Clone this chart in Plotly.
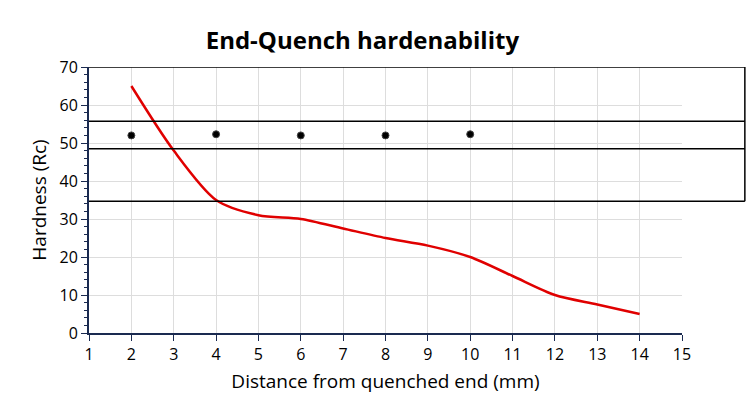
import plotly.graph_objects as go

curve_x = [2, 3, 4, 5, 6, 7, 8, 9, 10, 11, 12, 13, 14]
curve_y = [65, 48, 35, 31, 30, 27.5, 25, 23, 20, 15, 10, 7.5, 5]
dot_x = [2, 4, 6, 8, 10]
dot_y = [52, 52.3, 52, 52, 52.3]
band_levels = [70, 55.7, 48.5, 34.7]

fig = go.Figure()
fig.add_trace(go.Scatter(x=curve_x, y=curve_y, mode="lines",
                         line=dict(color="#e00000", width=2.5, shape="spline", smoothing=0.8)))
fig.add_trace(go.Scatter(x=dot_x, y=dot_y, mode="markers",
                         marker=dict(color="black", size=7, line=dict(color="#444", width=1))))

x_right = 1.106
for lv in band_levels:
    fig.add_shape(type="line", xref="paper", yref="y", x0=0, x1=x_right, y0=lv, y1=lv,
                  line=dict(color="black", width=1.5))
fig.add_shape(type="line", xref="paper", yref="y", x0=x_right, x1=x_right,
              y0=min(band_levels), y1=max(band_levels), line=dict(color="black", width=1.5))

axis_color = "#1a2a50"
fig.update_layout(
    width=754, height=401, showlegend=False,
    plot_bgcolor="white", paper_bgcolor="white",
    margin=dict(l=81, r=80, t=59, b=76),
    font=dict(family="Open Sans", size=16, color="black"),
    title=dict(text="<b>End-Quench hardenability</b>", x=0.47, y=0.94, xanchor="center",
               font=dict(size=24, family="Open Sans")),
    xaxis=dict(range=[1, 15], dtick=1, showgrid=True, gridcolor="#dddddd",
               showline=True, linecolor=axis_color, linewidth=2, ticks="outside",
               tickcolor=axis_color, ticklen=6, zeroline=False,
               title=dict(text="Distance from quenched end (mm)", standoff=10)),
    yaxis=dict(range=[0, 70], dtick=10, showgrid=True, gridcolor="#dddddd",
               showline=True, linecolor=axis_color, linewidth=2, ticks="outside",
               tickcolor=axis_color, ticklen=6, zeroline=False,
               minor=dict(dtick=2, ticks="outside", ticklen=3, tickcolor=axis_color, showgrid=False),
               title=dict(text="Hardness (Rc)", standoff=8)),
)
fig.write_html("out.html")
